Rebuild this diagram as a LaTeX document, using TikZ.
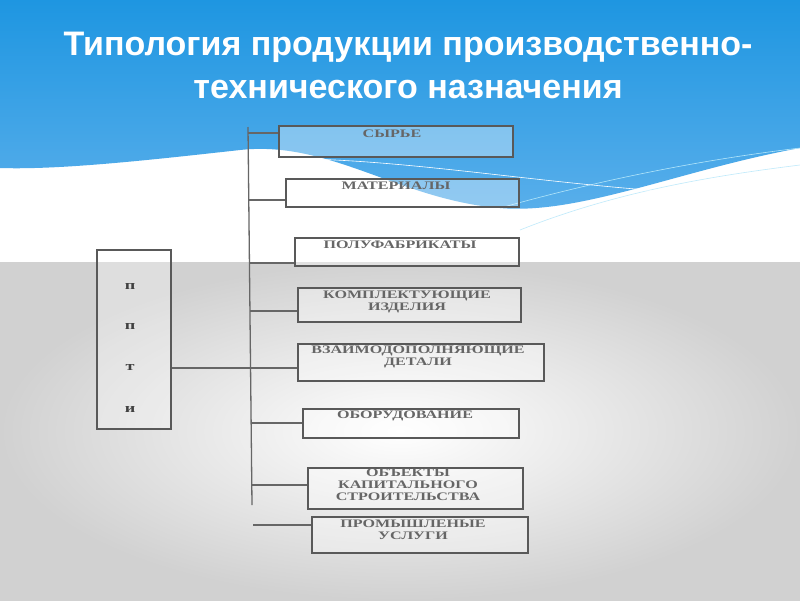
\documentclass[tikz,border=0pt]{standalone}
\usepackage{fontspec}
\setmainfont{Liberation Serif}[BoldFeatures={FakeStretch=1.4}]
\newfontfamily\titlefont{Liberation Sans}
\begin{document}
\begin{tikzpicture}[x=1pt,y=-1pt,
  box/.style={draw=black!65,line width=1.6pt,fill=white,fill opacity=0.35,inner sep=1pt,anchor=north west},
  lbl/.style={font=\bfseries\fontsize{11.5}{12}\selectfont,text=black!60,align=center},
  conn/.style={draw=black!60,line width=1.3pt},
  letter/.style={font=\bfseries\fontsize{13}{13}\selectfont,text=black!75}]
\useasboundingbox (0,0) rectangle (800,600);
% background
\shade[inner color=white,outer color=black!18] (0,262) rectangle (800,600);
\fill[white] (0,0) rectangle (800,262);
\shade[top color={rgb,255:red,30;green,150;blue,225},bottom color={rgb,255:red,90;green,175;blue,235}] (0,0) -- (800,0) -- (800,148) .. controls (680,170) and (580,215) .. (500,208) .. controls (400,200) and (330,140) .. (240,150) .. controls (150,160) and (60,170) .. (0,168) -- cycle;
\draw[cyan!30,line width=0.6pt] (500,208) .. controls (600,180) and (700,160) .. (800,148);
\draw[cyan!25,line width=0.6pt] (520,230) .. controls (620,190) and (720,175) .. (800,165);
\draw[white,line width=0.6pt] (240,160) .. controls (400,150) and (600,200) .. (800,195);
% title
\node[font=\titlefont\bfseries\fontsize{34}{43}\selectfont,text=white,align=center] (title) at (408,65) {Типология продукции производственно-\\технического назначения};
% left box
\node[draw=black!65,line width=1.6pt,minimum width=74pt,minimum height=179pt,anchor=north west,fill=white,fill opacity=0.3] (pptn) at (96,249) {};
\node[letter] (l1) at (130,287) {п};
\node[letter] (l2) at (130,327) {п};
\node[letter] (l3) at (130,368) {т};
\node[letter] (l4) at (130,410) {и};
% boxes
\node[box,minimum width=234pt,minimum height=31pt] (b1) at (278,125) {};
\node[lbl] (t1) at (392,134) {СЫРЬЕ};
\node[box,minimum width=233pt,minimum height=28pt] (b2) at (285,178) {};
\node[lbl] (t2) at (396,186) {МАТЕРИАЛЫ};
\node[box,minimum width=224pt,minimum height=28pt] (b3) at (294,237) {};
\node[lbl] (t3) at (400,245) {ПОЛУФАБРИКАТЫ};
\node[box,minimum width=223pt,minimum height=34pt] (b4) at (297,287) {};
\node[lbl] (t4) at (407,302) {КОМПЛЕКТУЮЩИЕ\\ИЗДЕЛИЯ};
\node[box,minimum width=246pt,minimum height=37pt] (b5) at (297,343) {};
\node[lbl] (t5) at (418,357) {ВЗАИМОДОПОЛНЯЮЩИЕ\\ДЕТАЛИ};
\node[box,minimum width=216pt,minimum height=29pt] (b6) at (302,408) {};
\node[lbl] (t6) at (405,416) {ОБОРУДОВАНИЕ};
\node[box,minimum width=215pt,minimum height=41pt] (b7) at (307,467) {};
\node[lbl] (t7) at (408,485) {ОБЪЕКТЫ\\КАПИТАЛЬНОГО\\СТРОИТЕЛЬСТВА};
\node[box,minimum width=216pt,minimum height=36pt] (b8) at (311,516) {};
\node[lbl] (t8) at (413,530) {ПРОМЫШЛЕНЫЕ\\УСЛУГИ};
% connectors
\coordinate (top) at (248,127);
\coordinate (bot) at (252,505);
\draw[conn] (top) -- (bot);
\draw[conn] (248,133) -- (b1.west |- 0,133);
\draw[conn] (248,200) -- (b2.west |- 0,200);
\draw[conn] (249,263) -- (b3.west |- 0,263);
\draw[conn] (250,311) -- (b4.west |- 0,311);
\draw[conn] (pptn.east |- 0,368) -- (b5.west |- 0,368);
\draw[conn] (251,423) -- (b6.west |- 0,423);
\draw[conn] (252,485) -- (b7.west |- 0,485);
\coordinate (free) at (253,525);
\draw[conn] (free) -- (b8.west |- 0,525);
\end{tikzpicture}
\end{document}
